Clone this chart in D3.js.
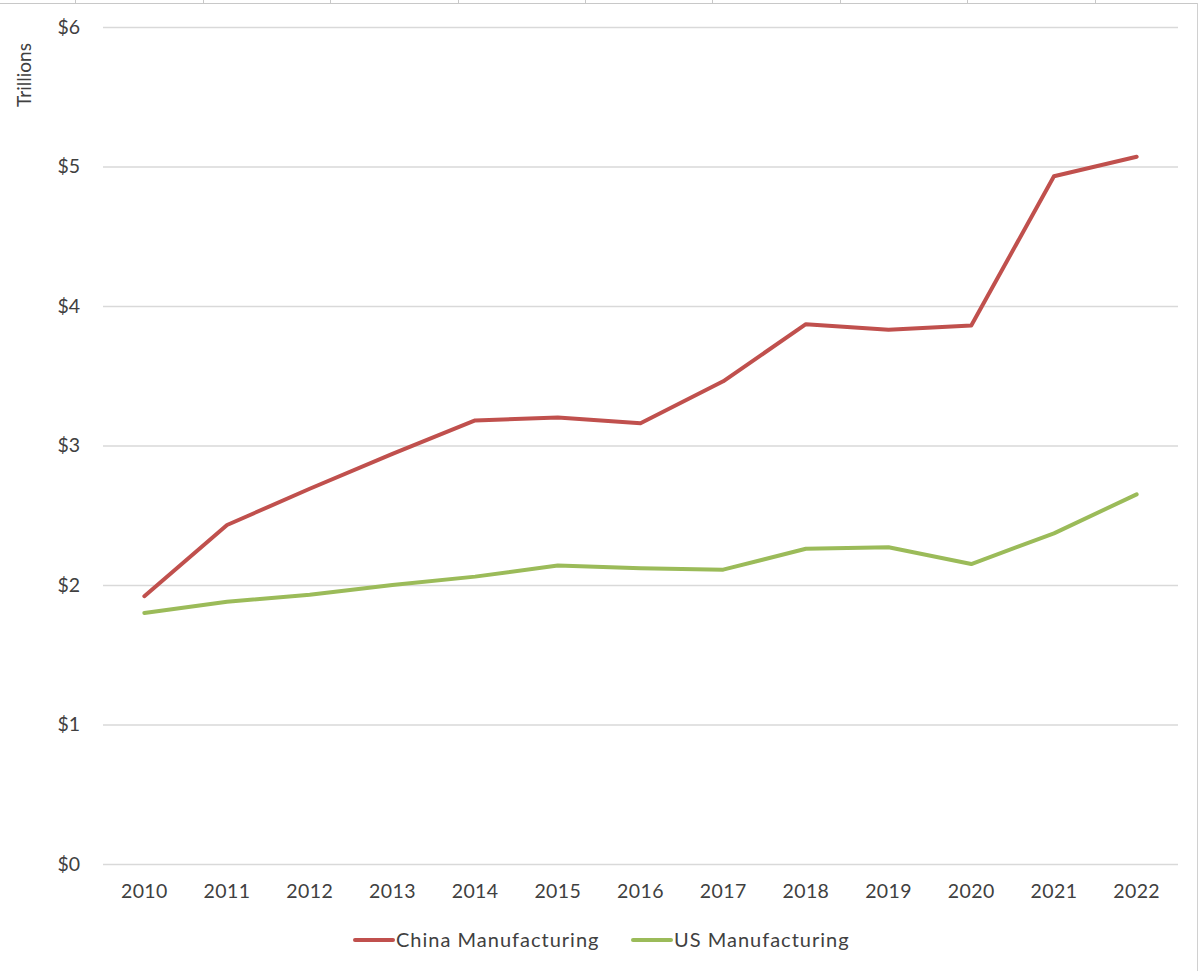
<!DOCTYPE html>
<html>
<head>
<meta charset="utf-8">
<script src="https://cdn.jsdelivr.net/npm/d3@7"></script>
<style>
	html, body { margin: 0; padding: 0; background: #fff; }
	svg { display: block; font-family: Lato, "Open Sans", sans-serif; }
</style>
</head>
<body>
<svg id="chart" width="1200" height="971"></svg>
<script>
'use strict';

// years on the x axis
var years = ["2010", "2011", "2012", "2013", "2014", "2015", "2016", "2017", "2018", "2019", "2020", "2021", "2022"];

// manufacturing output, trillions of dollars
var chinaValues = [1.92, 2.43, 2.69, 2.94, 3.18, 3.20, 3.16, 3.46, 3.87, 3.83, 3.86, 4.93, 5.07];
var usValues = [1.80, 1.88, 1.93, 2.00, 2.06, 2.14, 2.12, 2.11, 2.26, 2.27, 2.15, 2.37, 2.65];

var yTicks = [0, 1, 2, 3, 4, 5, 6];
var seriesNames = ["China Manufacturing", "US Manufacturing"];
var seriesColors = ["#c0504d", "#9bbb59"];

// spreadsheet column borders visible at the top of the screenshot
var sheetColumns = [75, 203, 330, 458, 585, 712, 840, 967, 1095];

var svg = d3.select("#chart");

var plot = { left: 103, right: 1178, top: 27, bottom: 864 };

var x = d3.scaleBand()
	.domain(years)
	.range([plot.left, plot.right]);

var y = d3.scaleLinear()
	.domain([0, 6])
	.range([plot.bottom, plot.top]);

// sheet frame
svg.append("line")
	.attr("x1", 0).attr("x2", 1198)
	.attr("y1", 3.5).attr("y2", 3.5)
	.attr("stroke", "#c8c8c8").attr("stroke-width", 1);
svg.selectAll(".colsep").data(sheetColumns).enter().append("line")
	.attr("x1", function(d) { return d + 0.5; })
	.attr("x2", function(d) { return d + 0.5; })
	.attr("y1", 0).attr("y2", 3)
	.attr("stroke", "#c8c8c8");
svg.append("line")
	.attr("x1", 1197.5).attr("x2", 1197.5)
	.attr("y1", 3).attr("y2", 971)
	.attr("stroke", "#d0d0d0").attr("stroke-width", 1);

// y axis with gridlines
var yAxis = svg.append("g")
	.attr("transform", "translate(" + plot.left + ",0)")
	.call(d3.axisLeft(y)
		.tickValues(yTicks)
		.tickSize(-(plot.right - plot.left))
		.tickPadding(23)
		.tickFormat(function(d) { return "$" + d; }));

yAxis.select(".domain").remove();
yAxis.selectAll(".tick line")
	.attr("stroke", "#d9d9d9")
	.attr("stroke-width", 1.5);
yAxis.selectAll(".tick text")
	.attr("fill", "#404040")
	.style("font-size", "19.5px")
	.style("font-family", "Lato, sans-serif");

// x axis
var xAxis = svg.append("g")
	.attr("transform", "translate(0," + plot.bottom + ")")
	.call(d3.axisBottom(x).tickSize(0).tickPadding(20));

xAxis.select(".domain").remove();
xAxis.selectAll(".tick text")
	.attr("fill", "#404040")
	.style("font-size", "19.5px")
	.style("letter-spacing", "0.4px")
	.style("font-family", "Lato, sans-serif");

// axis title
svg.append("text")
	.attr("transform", "translate(31,75) rotate(-90)")
	.attr("text-anchor", "middle")
	.attr("fill", "#404040")
	.style("font-size", "19px")
	.text("Trillions");

// lines
var line = d3.line()
	.x(function(d, i) { return x(years[i]) + x.bandwidth() / 2; })
	.y(function(d) { return y(d); });

[chinaValues, usValues].forEach(function(values, i) {
	svg.append("path")
		.datum(values)
		.attr("d", line)
		.attr("fill", "none")
		.attr("stroke", seriesColors[i])
		.attr("stroke-width", 4)
		.attr("stroke-linejoin", "round")
		.attr("stroke-linecap", "round");
});

// legend
var legendX = [355, 633];
var legend = svg.selectAll(".legend").data(seriesNames).enter().append("g")
	.attr("transform", function(d, i) { return "translate(" + legendX[i] + ",940)"; });

legend.append("line")
	.attr("x1", 0).attr("x2", 38)
	.attr("stroke", function(d, i) { return seriesColors[i]; })
	.attr("stroke-width", 4)
	.attr("stroke-linecap", "round");

legend.append("text")
	.attr("x", 41)
	.attr("dy", "0.35em")
	.attr("fill", "#404040")
	.style("font-size", "20px")
	.style("letter-spacing", "1px")
	.text(function(d) { return d; });
</script>
</body>
</html>
